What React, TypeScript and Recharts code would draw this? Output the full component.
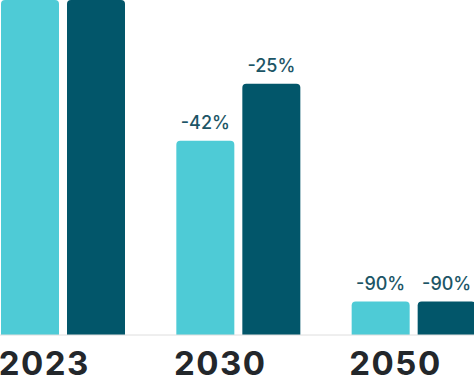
import { Bar, BarChart, LabelList, XAxis, YAxis } from 'recharts'

const years = ['2023', '2030', '2050']
const sectorA = [100, 58, 10]
const sectorB = [100, 75, 10]
const sectorALabels = ['', '-42%', '-90%']
const sectorBLabels = ['', '-25%', '-90%']

const data = years.map((year, i) => ({
  year,
  a: sectorA[i],
  b: sectorB[i],
  aLabel: sectorALabels[i],
  bLabel: sectorBLabels[i],
}))

function YearTick({ x, y, payload }: any) {
  return (
    <text
      x={x - 64}
      y={y + 40}
      textAnchor="start"
      fill="#23272b"
      fontSize={33}
      fontWeight={700}
      letterSpacing={1.5}
      fontFamily="Inter, sans-serif"
    >
      {payload.value}
    </text>
  )
}

export default function App() {
  return (
    <div style={{ position: 'absolute', left: 0, top: 0, width: 474, height: 384, overflow: 'hidden', background: '#fff' }}>
      <div style={{ position: 'absolute', left: -25, top: 0 }}>
        <BarChart
          width={526}
          height={384}
          data={data}
          margin={{ top: 0, right: 0, bottom: 0, left: 0 }}
          barGap={8}
          style={{ fontFamily: 'Inter, sans-serif' }}
        >
          <XAxis
            dataKey="year"
            height={49}
            tickLine={false}
            tickSize={0}
            tickMargin={0}
            axisLine={{ stroke: '#dedede' }}
            tick={<YearTick />}
            interval={0}
          />
          <YAxis hide domain={[0, 100]} />
          <Bar dataKey="a" fill="#4ecbd6" barSize={58} radius={[4, 4, 0, 0]} isAnimationActive={false}>
            <LabelList dataKey="aLabel" position="top" offset={12} fill="#1c5566" fontSize={18} fontWeight={500} />
          </Bar>
          <Bar dataKey="b" fill="#02566a" barSize={58} radius={[4, 4, 0, 0]} isAnimationActive={false}>
            <LabelList dataKey="bLabel" position="top" offset={12} fill="#1c5566" fontSize={18} fontWeight={500} />
          </Bar>
        </BarChart>
      </div>
    </div>
  )
}
